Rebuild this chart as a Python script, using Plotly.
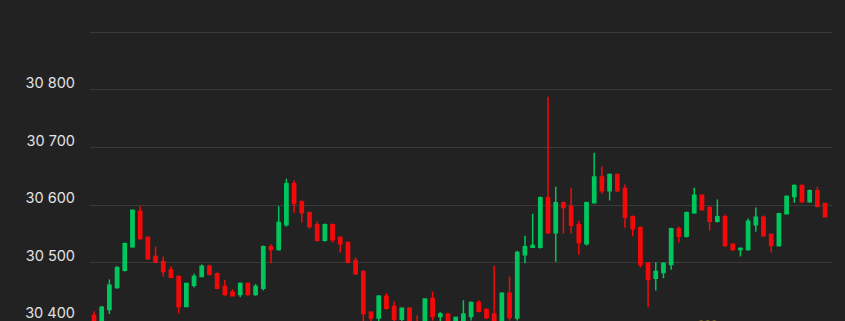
import plotly.graph_objects as go

# OHLC values (one candle per period)
open_ = [30409, 30390, 30419, 30457, 30487, 30528, 30589, 30544, 30511, 30502,
         30488, 30476, 30424, 30461, 30476, 30494, 30481, 30459, 30449, 30445,
         30464, 30445, 30456, 30528, 30523, 30566, 30637, 30606, 30587, 30566,
         30539, 30566, 30544, 30535, 30504, 30485, 30414, 30404, 30442, 30424,
         30402, 30421, 30395, 30392, 30438, 30407, 30411, 30398, 30400, 30407,
         30431, 30419, 30411, 30395, 30447, 30404, 30514, 30527, 30527, 30613,
         30552, 30604, 30598, 30566, 30533, 30604, 30649, 30625, 30653, 30629,
         30580, 30561, 30499, 30473, 30483, 30497, 30559, 30546, 30587, 30617,
         30596, 30572, 30580, 30532, 30523, 30523, 30566, 30579, 30549, 30530,
         30585, 30615, 30634, 30606, 30625, 30603]
high = [30416, 30425, 30471, 30494, 30535, 30592, 30598, 30546, 30528, 30511,
        30494, 30478, 30466, 30481, 30497, 30497, 30483, 30470, 30454, 30466,
        30466, 30463, 30530, 30532, 30598, 30646, 30643, 30608, 30589, 30572,
        30568, 30568, 30546, 30537, 30509, 30487, 30416, 30444, 30447, 30433,
        30423, 30423, 30409, 30438, 30450, 30414, 30412, 30407, 30435, 30433,
        30435, 30421, 30495, 30449, 30476, 30521, 30547, 30585, 30615, 30788,
        30632, 30606, 30630, 30573, 30606, 30691, 30667, 30655, 30655, 30636,
        30582, 30563, 30501, 30501, 30501, 30561, 30563, 30589, 30630, 30618,
        30598, 30610, 30584, 30533, 30527, 30577, 30596, 30582, 30551, 30587,
        30617, 30636, 30636, 30627, 30632, 30604]
low = [30385, 30385, 30411, 30455, 30485, 30526, 30540, 30505, 30499, 30476,
       30473, 30412, 30423, 30457, 30475, 30478, 30454, 30443, 30442, 30440,
       30443, 30443, 30452, 30499, 30521, 30563, 30587, 30570, 30559, 30537,
       30537, 30535, 30518, 30499, 30479, 30395, 30385, 30398, 30419, 30395,
       30395, 30380, 30370, 30385, 30400, 30398, 30388, 30395, 30396, 30400,
       30414, 30402, 30390, 30390, 30400, 30400, 30499, 30526, 30525, 30550,
       30502, 30551, 30551, 30514, 30530, 30603, 30620, 30608, 30623, 30561,
       30546, 30492, 30423, 30452, 30473, 30488, 30535, 30544, 30585, 30591,
       30556, 30570, 30528, 30521, 30511, 30521, 30554, 30545, 30518, 30528,
       30584, 30604, 30604, 30604, 30596, 30579]
close = [30392, 30423, 30461, 30492, 30533, 30591, 30542, 30507, 30501, 30485,
         30475, 30424, 30464, 30476, 30494, 30480, 30456, 30445, 30443, 30464,
         30445, 30459, 30528, 30523, 30570, 30637, 30603, 30587, 30563, 30539,
         30566, 30540, 30533, 30501, 30481, 30412, 30404, 30442, 30421, 30402,
         30421, 30390, 30380, 30437, 30407, 30411, 30395, 30405, 30411, 30431,
         30416, 30405, 30398, 30447, 30405, 30518, 30528, 30530, 30613, 30552,
         30604, 30596, 30565, 30535, 30604, 30649, 30625, 30653, 30625, 30579,
         30559, 30497, 30471, 30485, 30499, 30559, 30546, 30587, 30617, 30592,
         30572, 30580, 30530, 30523, 30525, 30572, 30579, 30547, 30530, 30585,
         30615, 30634, 30606, 30625, 30598, 30580]
periods = list(range(len(open_)))

tick_vals = [30400, 30500, 30600, 30700, 30800, 30900]
tick_text = ["30 400", "30 500", "30 600", "30 700", "30 800", ""]

# partially visible marker dots near the bottom edge
dot_x = [78.9, 79.75, 80.6]
dot_y = [30395, 30395, 30395]

GREEN = "#00c65e"
RED = "#f20a0a"
BG = "#222222"

fig = go.Figure()
fig.add_trace(go.Candlestick(
    x=periods, open=open_, high=high, low=low, close=close,
    increasing=dict(line=dict(color=GREEN, width=1.5), fillcolor=GREEN),
    decreasing=dict(line=dict(color=RED, width=1.5), fillcolor=RED),
    hoverinfo="skip",
))
fig.add_trace(go.Scatter(
    x=dot_x, y=dot_y, mode="markers",
    marker=dict(color="#8c7a2a", size=6),
    hoverinfo="skip",
))

fig.update_layout(
    width=845, height=321,
    margin=dict(l=90, r=13, t=0, b=0),
    paper_bgcolor=BG, plot_bgcolor=BG,
    showlegend=False,
    boxgap=0.4,
    font=dict(family="Inter, Roboto, sans-serif", size=14.5, color="#e2e2e2"),
    xaxis=dict(
        range=[-0.52, 95.9], showgrid=False, zeroline=False,
        showticklabels=False, rangeslider=dict(visible=False), fixedrange=True,
    ),
    yaxis=dict(
        range=[30399, 30956],
        tickvals=tick_vals, ticktext=tick_text,
        showgrid=True, gridcolor="#3a3a3a", gridwidth=1,
        zeroline=False, showline=False, ticks="",
        ticklabelstandoff=14, ticklabelshift=-7,
        ticklabeloverflow="allow",
    ),
)

fig.write_html("out.html")
